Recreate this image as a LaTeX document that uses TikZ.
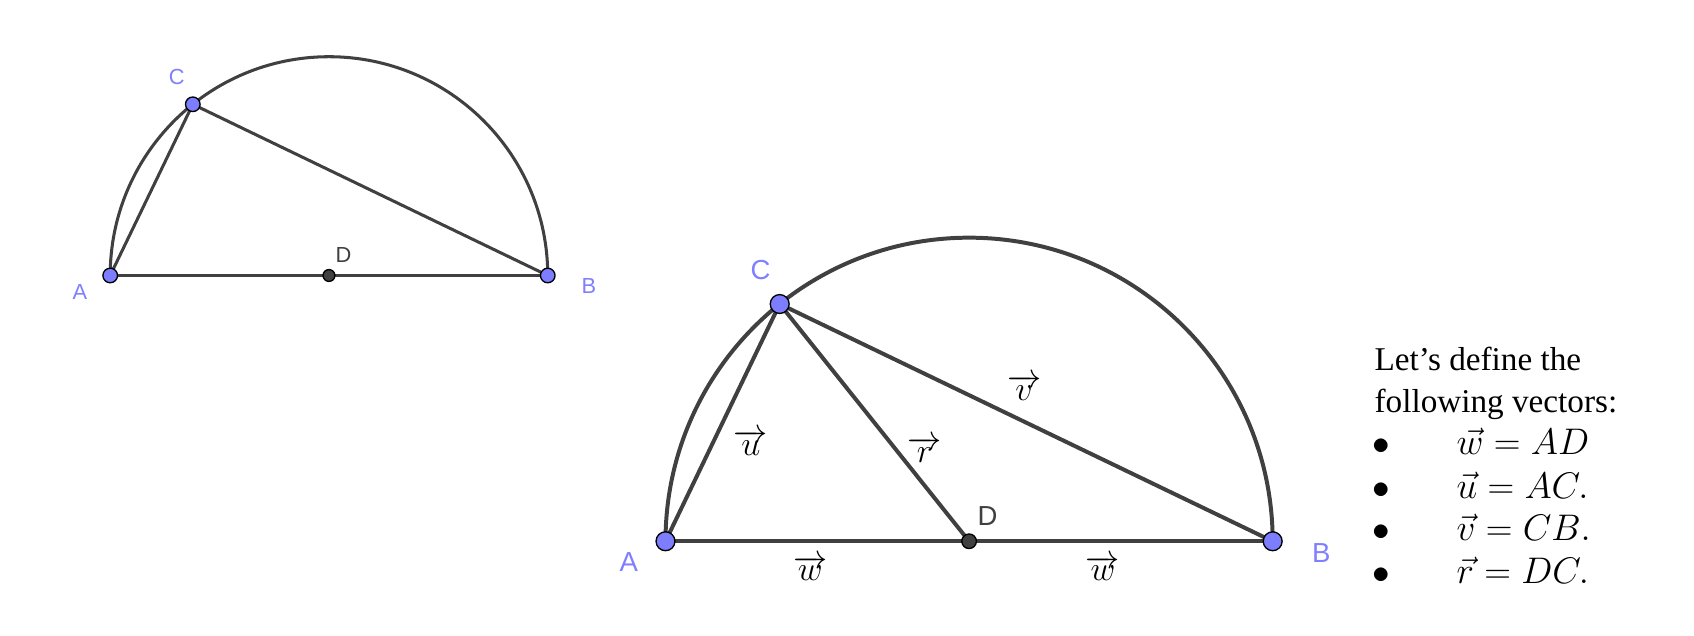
\RequirePackage{fix-cm}
\documentclass[tikz,border=0pt]{standalone}
\usepackage{fontspec}
\setmainfont{Liberation Serif}
\newfontfamily\ggbfont{Liberation Sans}
\usepackage{tikz}
\usetikzlibrary{positioning}
\definecolor{ptblue}{HTML}{7D7DFF}
\definecolor{lblblue}{HTML}{7F7FFF}
\definecolor{segcol}{HTML}{404040}

\begin{document}
\begin{tikzpicture}[x=0.02cm,y=0.02cm,
      every node/.style={align=center},
      seg/.style={draw=segcol, line width=2.1pt},
      segsmall/.style={draw=segcol, line width=1.6pt},
      pt/.style={circle, draw=black, line width=0.7pt, fill=ptblue, inner sep=0pt, minimum size=0.35cm},
      ptsmall/.style={pt, minimum size=0.27cm},
      mid/.style={circle, draw=black, line width=0.7pt, fill=segcol, inner sep=0pt, minimum size=0.27cm},
      midsmall/.style={mid, minimum size=0.22cm},
      lbl/.style={text=lblblue, font=\ggbfont\fontsize{14.5}{16}\selectfont, inner sep=0pt},
      lblsmall/.style={lbl, font=\ggbfont\fontsize{11.5}{13}\selectfont},
      vlbl/.style={font=\fontsize{18}{20}\selectfont, inner sep=0pt},
      txt/.style={font=\fontsize{17.5}{21}\selectfont, anchor=base west, inner sep=0pt},
      eqn/.style={txt, font=\fontsize{19.5}{21}\selectfont},
      dot/.style={txt, font=\fontsize{18.5}{21}\selectfont}]
    \useasboundingbox (0,0) rectangle (1568,588);
    % small half circle
    \coordinate (A1) at (102,333);
    \coordinate (B1) at (507,333);
    \coordinate (D1) at (304.5,333);
    \path (D1) ++(128.5:202.5) coordinate (C1);
    \draw[segsmall] (B1) arc[start angle=0, end angle=180, radius=202.5];
    \draw[segsmall] (A1) -- (B1);
    \draw[segsmall] (A1) -- (C1) -- (B1);
    \node[ptsmall] (pA1) at (A1) {};
    \node[ptsmall] (pB1) at (B1) {};
    \node[ptsmall] (pC1) at (C1) {};
    \node[midsmall] (pD1) at (D1) {};
    \node[lblsmall] (lA1) at (74,318) {A};
    \node[lblsmall] (lB1) at (545,323) {B};
    \node[lblsmall] (lC1) at (163.5,516.5) {C};
    \node[lblsmall, text=segcol] (lD1) at (318,352) {D};
    % big half circle with the vectors
    \coordinate (A2) at (616,87);
    \coordinate (B2) at (1178,87);
    \coordinate (D2) at (897,87);
    \path (D2) ++(128.6:281) coordinate (C2);
    \draw[seg] (B2) arc[start angle=0, end angle=180, radius=281];
    \draw[seg] (A2) -- (B2);
    \draw[seg] (A2) -- (C2) -- (B2);
    \draw[seg] (C2) -- (D2);
    \node[pt] (pA2) at (A2) {};
    \node[pt] (pB2) at (B2) {};
    \node[pt] (pC2) at (C2) {};
    \node[mid] (pD2) at (D2) {};
    \node[lbl] (lA2) at (582,68) {A};
    \node[lbl] (lB2) at (1223,76) {B};
    \node[lbl] (lC2) at (704,338) {C};
    \node[lbl, text=segcol] (lD2) at (914,110) {D};
    \node[vlbl] (vu) at (695,178) {$\overrightarrow{u}$};
    \node[vlbl] (vr) at (856,172) {$\overrightarrow{r}$};
    \node[vlbl] (vv) at (948,229) {$\overrightarrow{v}$};
    \node[vlbl] (vw1) at (750,62) {$\overrightarrow{w}$};
    \node[vlbl] (vw2) at (1021,62) {$\overrightarrow{w}$};
    % list of the vectors
    \node[txt] (t1) at (1272,245) {Let’s define the};
    \node[txt] (t2) at (1272,206) {following vectors:};
    \foreach \v/\rhs/\y [count=\i] in {w/AD/167, u/AC./127, v/CB./88, r/DC./48} {
      \node[dot] (b\i) at (1270,\y) {$\bullet$};
      \node[eqn] (e\i) at (1348,\y) {$\vec{\v} = \rhs$};
    }
\end{tikzpicture}
\end{document}
